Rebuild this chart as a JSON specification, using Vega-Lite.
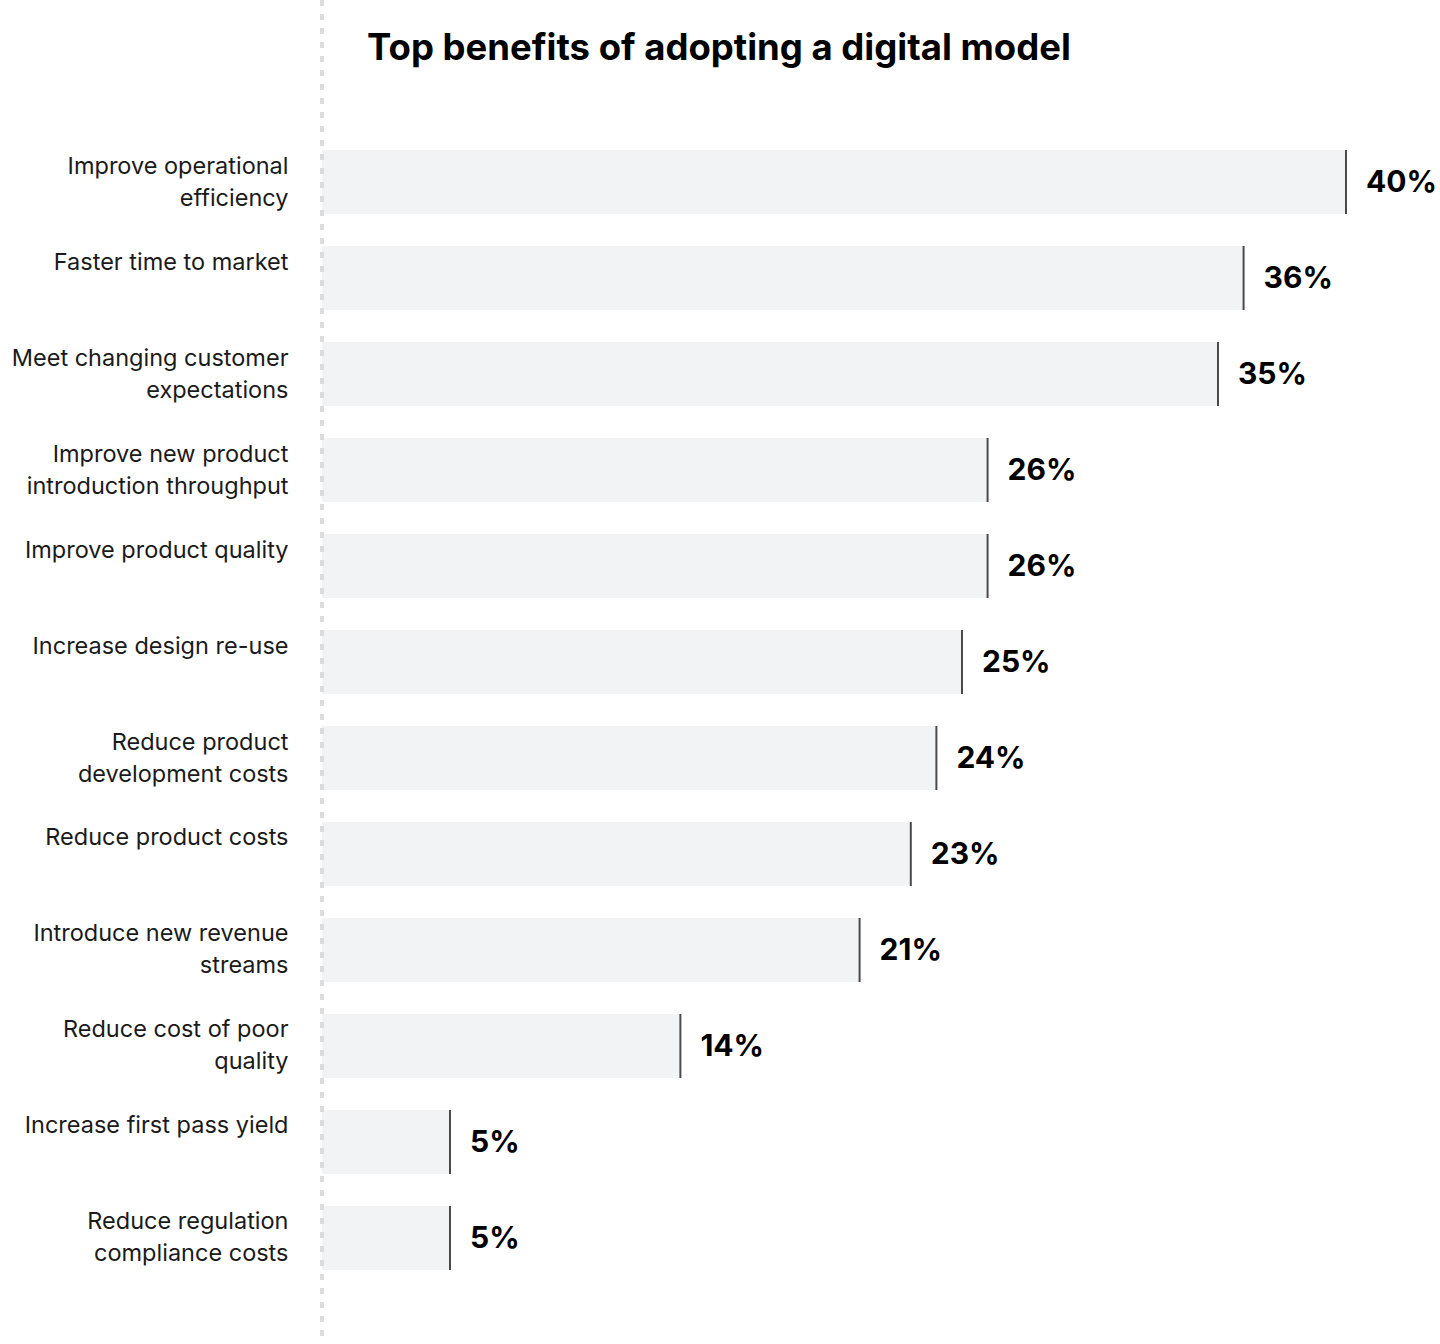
{
  "$schema": "https://vega.github.io/schema/vega-lite/v6.json",
  "width": 1024,
  "height": 1344,
  "autosize": {"type": "none"},
  "padding": {"left": 322, "top": 0, "right": 94, "bottom": 0},
  "background": "#ffffff",
  "title": {
    "text": "Top benefits of adopting a digital model",
    "anchor": "start",
    "frame": "group",
    "orient": "top",
    "offset": -69,
    "dx": 45,
    "font": "Inter",
    "fontSize": 36.5,
    "fontWeight": 700,
    "color": "#000000"
  },
  "data": {
    "values": [
      {"benefit": "Improve operational\nefficiency", "share": 0.40},
      {"benefit": "Faster time to market", "share": 0.36},
      {"benefit": "Meet changing customer\nexpectations", "share": 0.35},
      {"benefit": "Improve new product\nintroduction throughput", "share": 0.26},
      {"benefit": "Improve product quality", "share": 0.26},
      {"benefit": "Increase design re-use", "share": 0.25},
      {"benefit": "Reduce product\ndevelopment costs", "share": 0.24},
      {"benefit": "Reduce product costs", "share": 0.23},
      {"benefit": "Introduce new revenue\nstreams", "share": 0.21},
      {"benefit": "Reduce cost of poor\nquality", "share": 0.14},
      {"benefit": "Increase first pass yield", "share": 0.05},
      {"benefit": "Reduce regulation\ncompliance costs", "share": 0.05}
    ]
  },
  "layer": [
    {
      "mark": {"type": "bar", "color": "#f2f3f5"},
      "encoding": {
        "y": {
          "field": "benefit",
          "type": "nominal",
          "sort": null,
          "scale": {"range": [150, 1270], "paddingInner": 0.33333, "paddingOuter": 0},
          "axis": {
            "title": null,
            "ticks": false,
            "domain": false,
            "labelExpr": "split(datum.value, '\\n')",
            "labelBaseline": "alphabetic",
            "labelOffset": -8.5,
            "labelLineHeight": 32,
            "labelPadding": 34,
            "labelLimit": 400,
            "labelFont": "Inter",
            "labelFontSize": 23.5,
            "labelColor": "#1a1a1a"
          }
        },
        "x": {
          "field": "share",
          "type": "quantitative",
          "scale": {"domain": [0, 0.4], "nice": false, "zero": true},
          "axis": null
        }
      }
    },
    {
      "mark": {"type": "tick", "color": "#000000", "thickness": 2, "size": 64, "orient": "vertical"},
      "encoding": {
        "y": {"field": "benefit", "type": "nominal", "sort": null},
        "x": {"field": "share", "type": "quantitative"}
      }
    },
    {
      "mark": {
        "type": "text",
        "align": "left",
        "baseline": "middle",
        "dx": 20,
        "dy": 1,
        "font": "Inter",
        "fontSize": 30,
        "fontWeight": 700,
        "color": "#000000"
      },
      "encoding": {
        "y": {"field": "benefit", "type": "nominal", "sort": null},
        "x": {"field": "share", "type": "quantitative"},
        "text": {"field": "share", "type": "quantitative", "format": ".0%"}
      }
    },
    {
      "mark": {"type": "rule", "color": "#dcdcdc", "strokeWidth": 3, "strokeDash": [6, 8]},
      "encoding": {"x": {"datum": 0}}
    }
  ],
  "config": {"view": {"stroke": null}}
}
